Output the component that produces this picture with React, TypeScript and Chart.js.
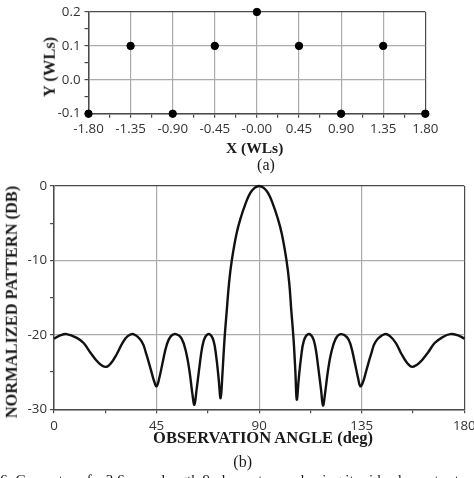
import React, { useEffect, useRef } from "react";
import { Chart, registerables } from "chart.js";

Chart.register(...registerables);

const elementX = [-1.8, -1.35, -0.9, -0.45, 0, 0.45, 0.9, 1.35, 1.8];
const elementY = [-0.1, 0.1, -0.1, 0.1, 0.2, 0.1, -0.1, 0.1, -0.1];
const xMajorA = [-1.8, -1.35, -0.9, -0.45, 0, 0.45, 0.9, 1.35, 1.8];
const xMinorA = [-1.575, -1.125, -0.675, -0.225, 0.225, 0.675, 1.125, 1.575];
const xLabelsA = ["-1.80", "-1.35", "-0.90", "-0.45", "-0.00", "0.45", "0.90", "1.35", "1.80"];
const yMajorA = [-0.1, 0, 0.1, 0.2];
const yMinorA = [-0.05, 0.05, 0.15];
const yLabelsA = ["-0.1", "0.0", "0.1", "0.2"];

const angle = [
  0, 2.5, 5.5, 10, 13, 16, 19.4, 22.7, 25, 27.5, 30, 32.2, 34.8, 38.5, 40.5, 42.5, 44, 45, 46.2, 47.8, 49.4, 51.2, 53.5,
  56, 58, 59.5, 60.7, 61.6, 62.5, 63.8, 65, 66.3, 68.2, 70, 71.2, 72.2, 73.1, 73.9, 74.8, 75.8, 76.8, 78, 80, 82, 84, 86,
  88, 90, 92, 94, 96, 98, 100, 102, 103.2, 104.1, 105.1, 105.9, 106.5, 107.4, 108.4, 109.6, 111.5, 113.4, 114.7, 115.9,
  117.2, 118, 118.9, 120.1, 121.6, 123.6, 125.8, 128.5, 130.2, 131.8, 133.4, 134.4, 135.6, 137.1, 139.1, 141.1, 145.1,
  147.5, 150, 152.5, 155, 157.2, 160.5, 164, 167, 170, 173.8, 177.5, 180,
];
const patternDb = [
  -20.5, -20.1, -19.9, -20.4, -21.1, -22.4, -23.7, -24.3, -23.8, -22.6, -21.1, -20.2, -19.9, -20.9, -22.6, -24.7, -26.3,
  -26.9, -25.8, -23.5, -21.4, -20.2, -19.9, -20.5, -22.4, -25, -27.9, -29.4, -27.5, -24.3, -21.7, -20.3, -19.9, -20.8,
  -23, -25.8, -28.5, -25.2, -20.6, -16.7, -13, -10, -6.5, -4.2, -2.4, -1, -0.25, 0, -0.25, -1, -2.4, -4.2, -6.5, -10, -13,
  -16.7, -20.6, -25, -28.7, -25.8, -23, -20.8, -19.9, -20.3, -21.7, -24.3, -27.5, -29.5, -27.9, -25, -22.4, -20.5, -19.9,
  -20.3, -21.4, -23.5, -25.8, -26.9, -26.3, -24.7, -22.6, -20.9, -19.9, -20.2, -21.1, -22.6, -23.8, -24.3, -23.7, -22.4,
  -21.1, -20.4, -19.9, -20.1, -20.5,
];
const xMajorB = [0, 45, 90, 135, 180];
const xMinorB = [22.5, 67.5, 112.5, 157.5];
const xLabelsB = ["0", "45", "90", "135", "180"];
const yMajorB = [-30, -20, -10, 0];
const yMinorB = [-25, -15, -5];
const yLabelsB = ["-30", "-20", "-10", "0"];

const GRID = "#ababab";
const AXIS = "#4a4a4a";
const TICK_FONT = { family: "'Open Sans'", size: 13.3 };

function axis(
  major: number[],
  minor: number[],
  labels: string[],
  min: number,
  max: number,
  fixed: { width?: number; height?: number },
  pad: number,
  edge: number,
) {
  return {
    type: "linear",
    min,
    max,
    afterBuildTicks: (s: any) => {
      s.ticks = [...major, ...minor].sort((a, b) => a - b).map((value) => ({ value }));
    },
    afterFit: (s: any) => {
      if (fixed.width) s.width = fixed.width;
      if (fixed.height) s.height = fixed.height;
      s.paddingLeft = s.paddingRight = s.paddingTop = s.paddingBottom = 0;
    },
    ticks: {
      autoSkip: false,
      maxRotation: 0,
      minRotation: 0,
      padding: pad,
      color: "#333",
      font: TICK_FONT,
      callback: (v: number) => {
        const i = major.indexOf(v);
        return i >= 0 ? labels[i] : "";
      },
    },
    grid: {
      lineWidth: 1.2,
      tickLength: 4,
      tickColor: AXIS,
      color: (c: any) => {
        const v = c.tick?.value;
        if (v === edge) return AXIS;
        return major.includes(v) ? GRID : "rgba(0,0,0,0)";
      },
    },
    border: { color: AXIS, width: 1.5 },
  };
}

const serifBold: React.CSSProperties = {
  position: "absolute",
  fontFamily: "'Liberation Serif'",
  fontWeight: "bold",
  color: "#1a1a1a",
  whiteSpace: "nowrap",
  lineHeight: 1,
};
const serifPlain: React.CSSProperties = { ...serifBold, fontWeight: "normal" };

function at(x: number, y: number, size: number, rot = false): React.CSSProperties {
  return {
    left: x,
    top: y,
    fontSize: size,
    transform: `translate(-50%,-50%)${rot ? " rotate(-90deg)" : ""}`,
  };
}

export default function App() {
  const a = useRef<HTMLCanvasElement>(null);
  const b = useRef<HTMLCanvasElement>(null);

  useEffect(() => {
    const noPlugins = { legend: { display: false }, tooltip: { enabled: false }, title: { display: false } };
    const chartA = new Chart(a.current!, {
      type: "scatter",
      data: {
        datasets: [
          {
            data: elementX.map((x, i) => ({ x, y: elementY[i] })),
            pointRadius: 3.7,
            backgroundColor: "#000",
            borderColor: "#000",
            clip: false,
          } as any,
        ],
      },
      options: {
        animation: false,
        responsive: false,
        plugins: noPlugins,
        layout: { padding: { left: 0, top: 12, right: 48.7, bottom: 26.3 } },
        scales: {
          x: axis(xMajorA, xMinorA, xLabelsA, -1.8, 1.8, { height: 30 }, 4, 1.8),
          y: axis(yMajorA, yMinorA, yLabelsA, -0.1, 0.2, { width: 88.5 }, 4, 0.2),
        } as any,
      },
    });
    const chartB = new Chart(b.current!, {
      type: "scatter",
      data: {
        datasets: [
          {
            data: angle.map((x, i) => ({ x, y: patternDb[i] })),
            showLine: true,
            pointRadius: 0,
            borderColor: "#111",
            borderWidth: 2.4,
            tension: 0.4,
            clip: false,
          } as any,
        ],
      },
      options: {
        animation: false,
        responsive: false,
        plugins: noPlugins,
        layout: { padding: { left: 0, top: 16, right: 9.7, bottom: 38.7 } },
        scales: {
          x: axis(xMajorB, xMinorB, xLabelsB, 0, 180, { height: 30 }, 5, 180),
          y: axis(yMajorB, yMinorB, yLabelsB, -30, 0, { width: 54 }, 3, 0),
        } as any,
      },
    });
    return () => {
      chartA.destroy();
      chartB.destroy();
    };
  }, []);

  return (
    <div style={{ position: "fixed", left: 0, top: 0, width: 474, height: 478, overflow: "hidden", background: "#fff" }}>
      <canvas ref={a} width={474} height={170} style={{ position: "absolute", left: 0, top: 0 }} />
      <canvas ref={b} width={474} height={308} style={{ position: "absolute", left: 0, top: 170 }} />
      <div style={{ ...serifBold, ...at(50, 67, 16.5, true) }}>Y (WLs)</div>
      <div style={{ ...serifBold, ...at(254.7, 148, 15.5) }}>X (WLs)</div>
      <div style={{ ...serifPlain, ...at(266, 165, 16) }}>(a)</div>
      <div style={{ ...serifBold, ...at(12, 301.5, 16.4, true) }}>NORMALIZED PATTERN (DB)</div>
      <div style={{ ...serifBold, ...at(263, 438, 16.5) }}>OBSERVATION ANGLE (deg)</div>
      <div style={{ ...serifPlain, ...at(242.7, 462, 16) }}>(b)</div>
      <div style={{ ...serifPlain, left: 0, top: 473, fontSize: 15 }}>
        6:  Geometry of a 3.6-wavelength 9-element array having its side elements at
      </div>
    </div>
  );
}
